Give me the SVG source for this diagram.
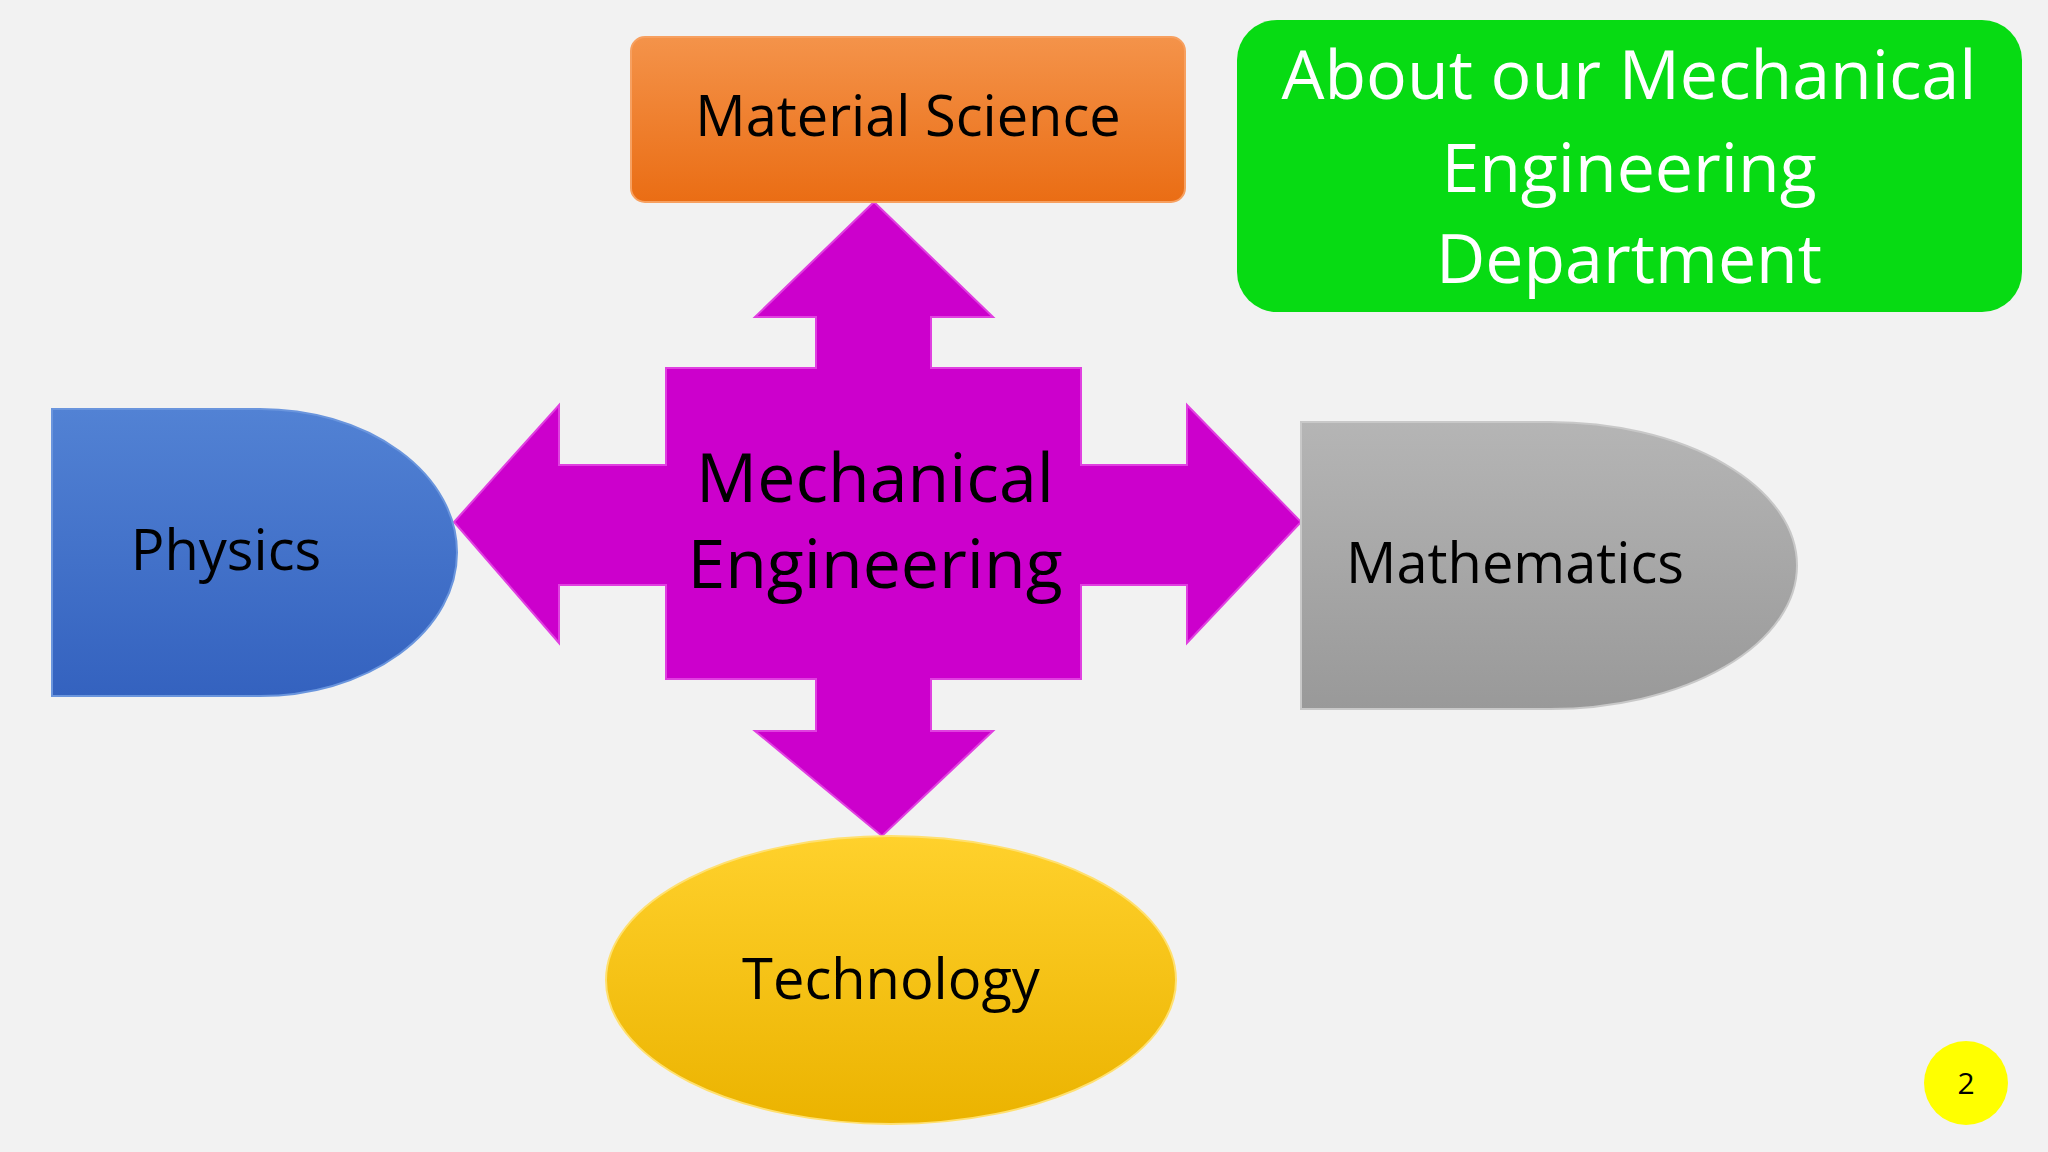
<svg xmlns="http://www.w3.org/2000/svg" width="2048" height="1152" viewBox="0 0 2048 1152">
<defs>
<linearGradient id="gO" x1="0" y1="0" x2="0" y2="1"><stop offset="0" stop-color="#f4934a"/><stop offset="1" stop-color="#ea6d14"/></linearGradient>
<linearGradient id="gB" x1="0" y1="0" x2="0" y2="1"><stop offset="0" stop-color="#5282d4"/><stop offset="1" stop-color="#3462bf"/></linearGradient>
<linearGradient id="gG" x1="0" y1="0" x2="0" y2="1"><stop offset="0" stop-color="#b5b5b5"/><stop offset="1" stop-color="#999"/></linearGradient>
<linearGradient id="gY" x1="0" y1="0" x2="0" y2="1"><stop offset="0" stop-color="#ffd12c"/><stop offset="1" stop-color="#ebb300"/></linearGradient>
<style>
text{font-family:"Open Sans","Noto Sans",sans-serif;text-anchor:middle;fill:#000}
.t{font-size:56px}
</style>
</defs>
<rect width="2048" height="1152" fill="#f2f2f2"/>
<g id="connectors">
<path d="M874,202 L993,317 L931,317 L931,368 L1081,368 L1081,465 L1187,465 L1187,405 L1301,522 L1187,643 L1187,585 L1081,585 L1081,679 L931,679 L931,731 L993,731 L882,836 L755,731 L816,731 L816,679 L666,679 L666,585 L559,585 L559,643 L454,522 L559,405 L559,465 L666,465 L666,368 L816,368 L816,317 L755,317 Z" fill="#cc00cc" stroke="#e040e0" stroke-width="2"/>
</g>
<g id="center"><text x="875" y="502" style="font-size:68px">Mechanical</text><text x="875" y="588" style="font-size:68px">Engineering</text></g>
<g id="material"><rect x="631" y="37" width="554" height="165" rx="14" fill="url(#gO)" stroke="#f7a060" stroke-width="2"/><text class="t" x="908" y="136">Material Science</text></g>
<g id="title"><rect x="1237" y="20" width="785" height="292" rx="40" fill="#07db13"/>
<text x="1629" y="99" style="font-size:68px;fill:#fff">About our Mechanical</text>
<text x="1629" y="192" style="font-size:68px;fill:#fff">Engineering</text>
<text x="1629" y="283" style="font-size:68px;fill:#fff">Department</text></g>
<g id="physics"><path d="M52,409 L260,409 A197,143.5 0 0 1 260,696 L52,696 Z" fill="url(#gB)" stroke="#6a95dd" stroke-width="2"/><text class="t" x="226" y="570">Physics</text></g>
<g id="math"><path d="M1301,422 L1550,422 A247,143.5 0 0 1 1550,709 L1301,709 Z" fill="url(#gG)" stroke="#c8c8c8" stroke-width="2"/><text class="t" x="1515" y="583">Mathematics</text></g>
<g id="tech"><ellipse cx="891" cy="980" rx="285" ry="144" fill="url(#gY)" stroke="#ffe070" stroke-width="2"/><text class="t" x="891" y="999">Technology</text></g>
<g id="page"><circle cx="1966" cy="1083" r="42" fill="#ffff00"/><text x="1966" y="1094" style="font-size:30px">2</text></g>
</svg>
